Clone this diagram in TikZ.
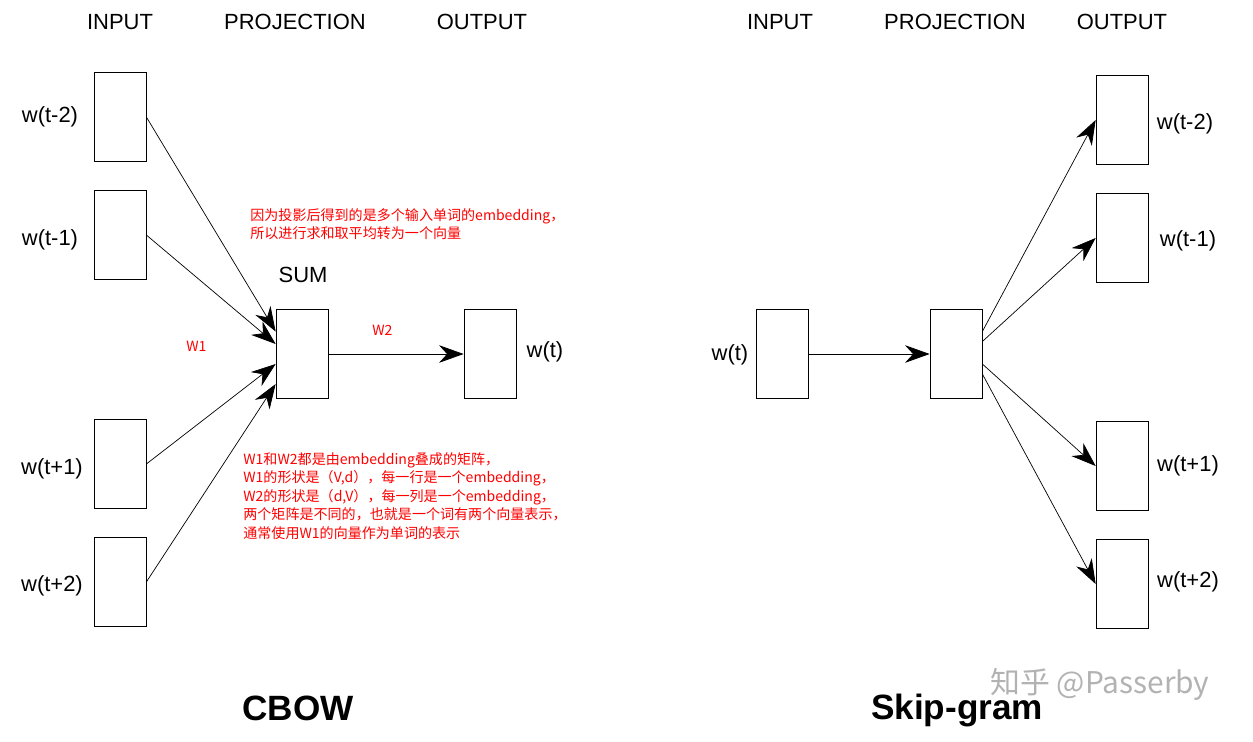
\documentclass[tikz,border=0pt]{standalone}
\usepackage{fontspec}
\setmainfont{Liberation Sans}
\newfontfamily\cjk{Noto Sans CJK SC}
\usetikzlibrary{arrows.meta}
\begin{document}
\begin{tikzpicture}[x=0.02cm,y=-0.02cm,
  box/.style={draw,minimum width=1.04cm,minimum height=1.78cm,inner sep=0pt},
  lab/.style={font=\fontsize{12.5}{14}\selectfont},
  note/.style={text=red,font=\cjk\fontsize{8}{10.5}\selectfont,align=left,anchor=north west,inner sep=0pt},
  big/.style={font=\bfseries\fontsize{20}{22}\selectfont},
  arr/.style={-{Stealth[length=14pt,width=10pt]}}]
  \useasboundingbox (0,0) rectangle (1253,741);
  % CBOW
  \node[lab] (hin1) at (120,22) {INPUT};
  \node[lab] (hpr1) at (295,22) {PROJECTION};
  \node[lab] (hout1) at (482,22) {OUTPUT};
  \node[box] (c1) at (120,117) {};
  \node[box] (c2) at (120,235) {};
  \node[box] (c3) at (120,464) {};
  \node[box] (c4) at (120,582) {};
  \node[lab] at (50,117) {w(t-2)};
  \node[lab] at (50,240) {w(t-1)};
  \node[lab] at (52,469) {w(t+1)};
  \node[lab] at (52,586) {w(t+2)};
  \node[box] (sum) at (302,354) {};
  \node[box] (cout) at (490,354) {};
  \node[lab] at (545,352) {w(t)};
  \node[lab] at (303,275) {SUM};
  \draw[arr] (c1.east) -- ([yshift=0.45cm]sum.west);
  \draw[arr] (c2.east) -- ([yshift=0.2cm]sum.west);
  \draw[arr] (c3.east) -- ([yshift=-0.2cm]sum.west);
  \draw[arr] (c4.east) -- ([yshift=-0.6cm]sum.west);
  \draw[arr] (sum.east) -- (cout.west);
  \node[note] at (186,341) {W1};
  \node[note] at (372,325) {W2};
  \node[note] at (250,208) {因为投影后得到的是多个输入单词的embedding，\\所以进行求和取平均转为一个向量};
  \node[note] at (243,452) {W1和W2都是由embedding叠成的矩阵，\\W1的形状是（V,d），每一行是一个embedding，\\W2的形状是（d,V），每一列是一个embedding，\\两个矩阵是不同的，也就是一个词有两个向量表示，\\通常使用W1的向量作为单词的表示};
  \node[big] at (298,708) {CBOW};
  % Skip-gram
  \node[lab] (hin2) at (780,22) {INPUT};
  \node[lab] (hpr2) at (955,22) {PROJECTION};
  \node[lab] (hout2) at (1122,22) {OUTPUT};
  \node[box] (sin) at (782,354) {};
  \node[lab] at (730,355) {w(t)};
  \node[box] (proj) at (956,354) {};
  \node[box] (s1) at (1122,120) {};
  \node[box] (s2) at (1122,238) {};
  \node[box] (s3) at (1122,466) {};
  \node[box] (s4) at (1122,584) {};
  \node[lab] at (1185,124) {w(t-2)};
  \node[lab] at (1188,241) {w(t-1)};
  \node[lab] at (1188,466) {w(t+1)};
  \node[lab] at (1188,582) {w(t+2)};
  \draw[arr] (sin.east) -- (proj.west);
  \draw[arr] ([yshift=0.45cm]proj.east) -- (s1.west);
  \draw[arr] ([yshift=0.25cm]proj.east) -- (s2.west);
  \draw[arr] ([yshift=-0.2cm]proj.east) -- (s3.west);
  \draw[arr] ([yshift=-0.4cm]proj.east) -- (s4.west);
  \node[big] at (957,710) {Skip-gram};
  \node[text=black!30,font=\cjk\fontsize{17}{20}\selectfont] at (1100,684) {知乎 @Passerby};
\end{tikzpicture}
\end{document}
